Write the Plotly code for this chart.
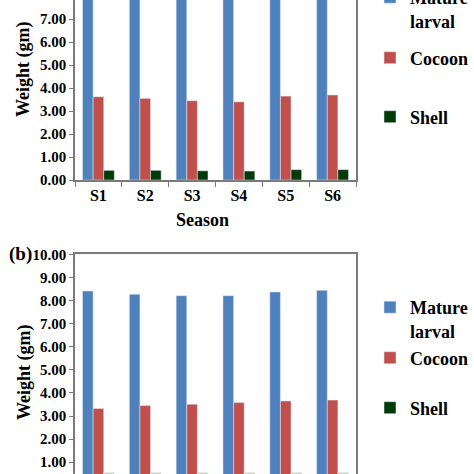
import plotly.graph_objects as go

seasons = ["S1", "S2", "S3", "S4", "S5", "S6"]

# panel (a)
a_mature = [8.40, 8.30, 8.25, 8.20, 8.35, 8.45]
a_cocoon = [3.62, 3.55, 3.45, 3.40, 3.65, 3.70]
a_shell = [0.42, 0.42, 0.40, 0.39, 0.45, 0.45]

# panel (b)
b_mature = [8.41, 8.27, 8.21, 8.21, 8.37, 8.44]
b_cocoon = [3.33, 3.45, 3.51, 3.58, 3.65, 3.69]
b_shell = [0.55, 0.55, 0.55, 0.55, 0.55, 0.55]

BLUE = "#4f81bd"
RED = "#c0504d"
GREEN = "#033a0a"
LIGHT = "#c8d2c8"
AX = "#7a7a7a"
FONT = "Liberation Serif"

W = H = 474
def px(v):
    return v / W
def py(v):
    return (H - v) / H

fig = go.Figure()

fig.add_trace(go.Bar(x=seasons, y=a_mature, name="Mature<br>larval", marker_color=BLUE,
                     xaxis="x", yaxis="y", legend="legend", showlegend=True))
fig.add_trace(go.Bar(x=seasons, y=a_cocoon, name="Cocoon", marker_color=RED,
                     xaxis="x", yaxis="y", legend="legend2", showlegend=True))
fig.add_trace(go.Bar(x=seasons, y=a_shell, name="Shell", marker_color=GREEN,
                     xaxis="x", yaxis="y", legend="legend3", showlegend=True))

fig.add_trace(go.Bar(x=seasons, y=b_mature, name="Mature<br>larval", marker_color=BLUE,
                     xaxis="x2", yaxis="y2", legend="legend4", showlegend=True))
fig.add_trace(go.Bar(x=seasons, y=b_cocoon, name="Cocoon", marker_color=RED,
                     xaxis="x2", yaxis="y2", legend="legend5", showlegend=True))
fig.add_trace(go.Bar(x=seasons, y=b_shell, name="Shell", marker_color=LIGHT,
                     xaxis="x2", yaxis="y2", showlegend=False))
fig.add_trace(go.Bar(x=[None], y=[None], name="Shell", marker_color=GREEN,
                     xaxis="x3", yaxis="y3", legend="legend6", showlegend=True))

xdom = [px(75), px(356)]
tickfont = dict(family=FONT, size=15, color="black", weight="bold")

common_x = dict(domain=xdom, showline=True, linecolor=AX, linewidth=1.5,
                ticks="outside", tickson="boundaries", ticklen=5, tickcolor=AX,
                tickfont=dict(family=FONT, size=16, color="black", weight="bold"),
                showgrid=False)
common_y = dict(showline=True, linecolor=AX, linewidth=1.5, ticks="outside", ticklen=4,
                tickcolor=AX, tickformat=".2f", dtick=1, tickfont=tickfont,
                showgrid=False, zeroline=False)

leg_font = dict(family=FONT, size=18, color="black", weight="bold")
def leg(y, anchor="middle"):
    return dict(x=px(370), xanchor="left", y=py(y), yanchor=anchor,
                font=leg_font, bgcolor="rgba(0,0,0,0)", valign="top",
                borderwidth=0, visible=True)

fig.update_layout(
    width=W, height=H, showlegend=True,
    margin=dict(l=0, r=0, t=0, b=0, autoexpand=False),
    paper_bgcolor="white", plot_bgcolor="white",
    barmode="group", bargap=0.32, bargroupgap=0,
    font=dict(family=FONT, color="black"),
    xaxis=dict(**common_x, anchor="y", mirror=False),
    yaxis=dict(**common_y, domain=[py(180), 1.0], range=[0, 7.83], anchor="x", mirror=True),
    xaxis2=dict(**common_x, anchor="y2", mirror=True, showticklabels=False),
    yaxis2=dict(**common_y, domain=[0, py(254.3)], range=[0.49, 10], anchor="x2", mirror=True),
    xaxis3=dict(visible=False, domain=[0.99, 1.0], anchor="y3"),
    yaxis3=dict(visible=False, domain=[0.99, 1.0], anchor="x3"),
    legend=leg(-21, "top"),
    legend2=leg(58),
    legend3=leg(117),
    legend4=leg(289, "top"),
    legend5=leg(358),
    legend6=leg(408),
)

tfont = dict(family=FONT, size=18, color="black")
annots = [
    dict(text="<b>Season</b>", x=px(202), y=py(220), xanchor="center", yanchor="middle",
         xref="paper", yref="paper", showarrow=False, font=tfont),
    dict(text="<b>Weight (gm)</b>", x=px(24), y=py(70), xanchor="center", yanchor="middle",
         xref="paper", yref="paper", textangle=-90, showarrow=False, font=tfont),
    dict(text="<b>Weight (gm)</b>", x=px(24), y=py(373), xanchor="center", yanchor="middle",
         xref="paper", yref="paper", textangle=-90, showarrow=False, font=tfont),
    dict(text="<b>(b)</b>", x=px(20), y=py(254), xanchor="center", yanchor="middle",
         xref="paper", yref="paper", showarrow=False,
         font=dict(family=FONT, size=19, color="black")),
]
fig.update_layout(annotations=annots)

fig.write_html("out.html")
